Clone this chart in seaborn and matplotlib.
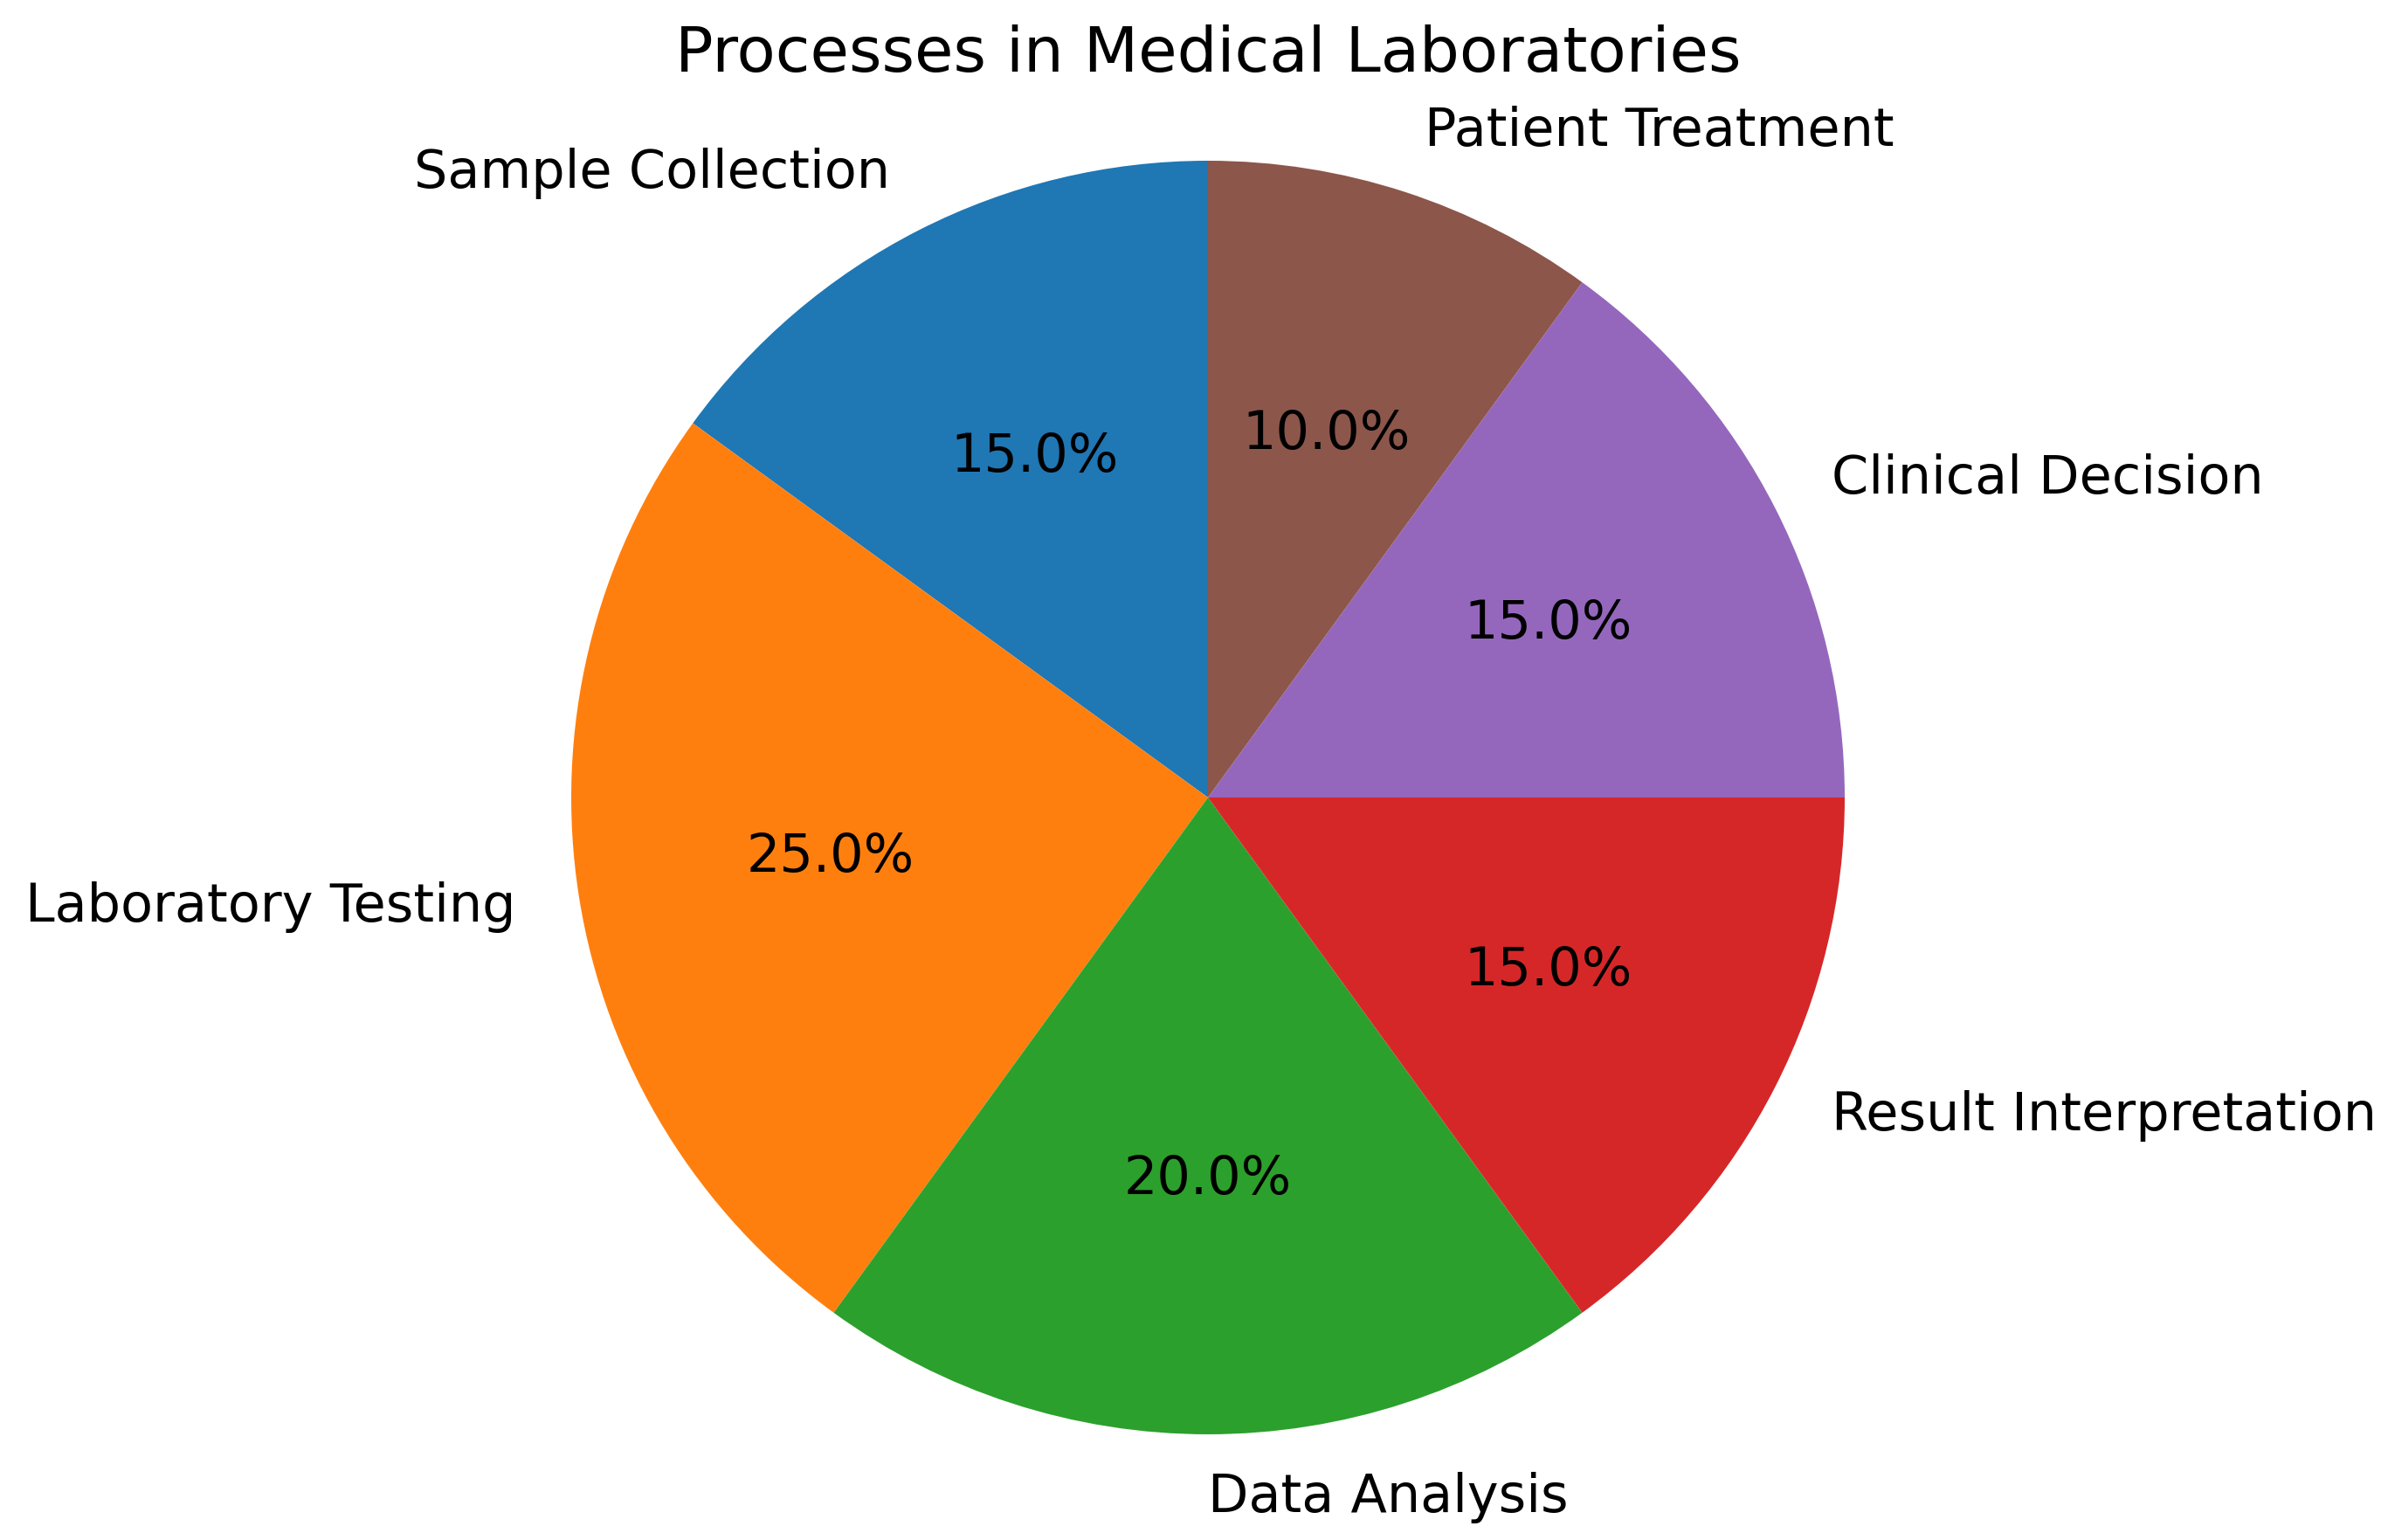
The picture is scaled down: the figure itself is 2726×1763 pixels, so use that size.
import matplotlib
matplotlib.use("Agg")
import matplotlib.pyplot as plt
import seaborn as sns

# data
processes = ["Sample Collection", "Laboratory Testing", "Data Analysis",
             "Result Interpretation", "Clinical Decision", "Patient Treatment"]
shares = [15, 25, 20, 15, 15, 10]

colors = sns.color_palette("tab10", len(processes))

W, H, DPI = 2726, 1763, 200
fig = plt.figure(figsize=(W / DPI, H / DPI), dpi=DPI)

# pie centre and radius in pixels
cx, cy, r = 1383, 913, 729
ax = fig.add_axes([(cx - r) / W, (H - cy - r) / H, 2 * r / W, 2 * r / H])

ax.pie(shares, labels=processes, colors=colors, autopct="%1.1f%%",
       startangle=90, textprops={"fontsize": 21.8})
ax.set_xlim(-1, 1)
ax.set_ylim(-1, 1)
ax.set_title("Processes in Medical Laboratories", fontsize=26, y=1.07, pad=0)

fig.savefig("out.png", dpi=DPI)
